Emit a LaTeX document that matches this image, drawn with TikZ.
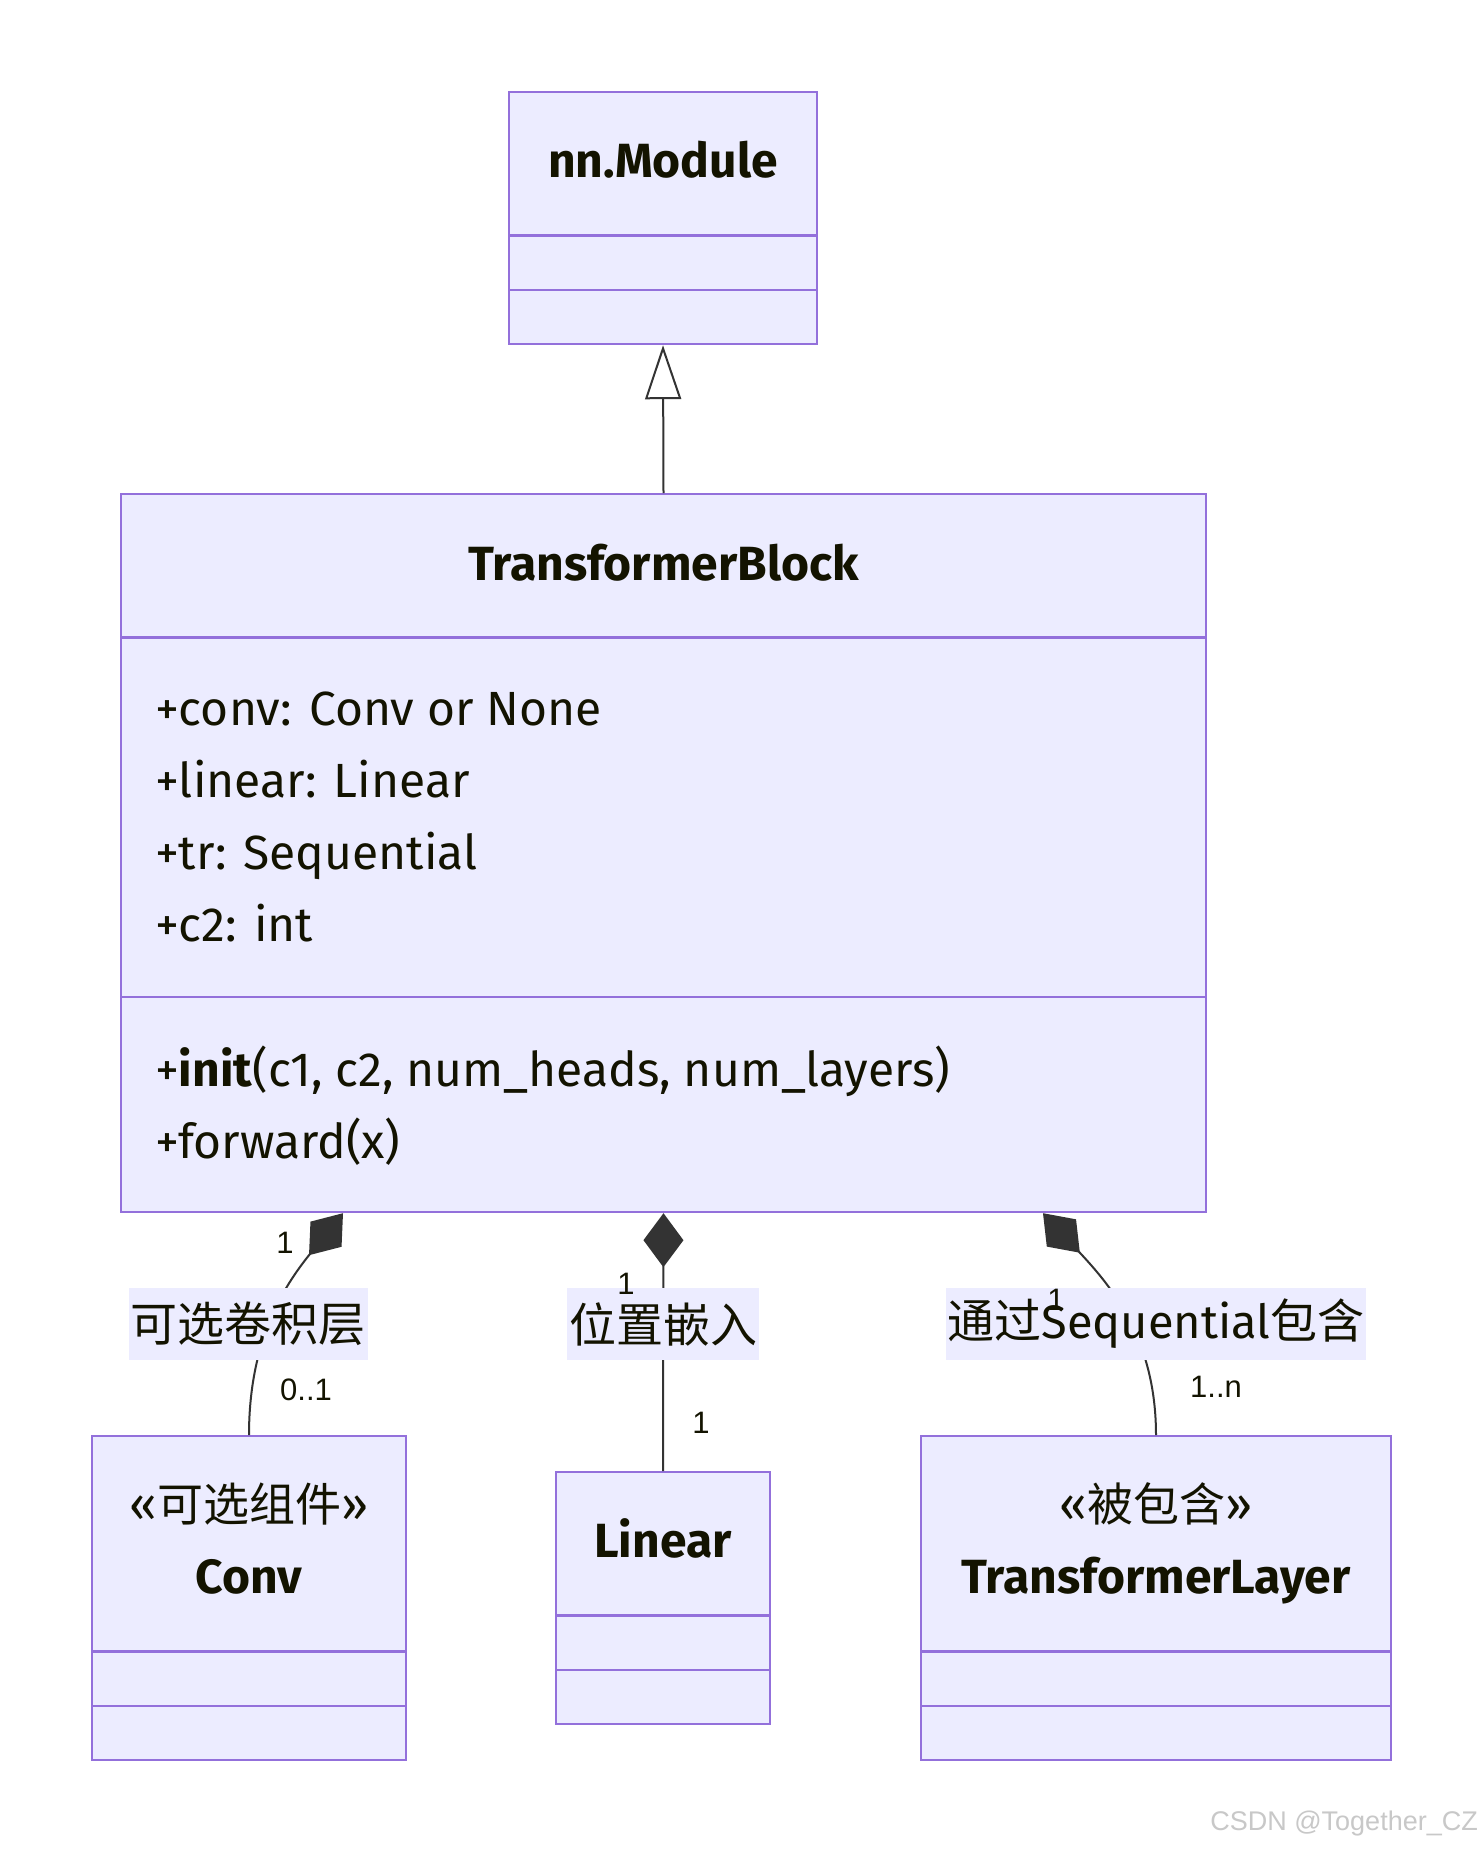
\documentclass[tikz,border=0pt]{standalone}
\usepackage{fontspec}
\setmainfont{Fira Sans}
\newfontfamily\cjk{Noto Sans CJK SC}
\newfontfamily\numfont{Liberation Sans}
\usetikzlibrary{shapes.multipart}
\usetikzlibrary{arrows.meta}
\definecolor{umlfill}{HTML}{ECECFF}
\definecolor{umlborder}{HTML}{9370DB}
\definecolor{umlline}{HTML}{333333}
\definecolor{umltext}{HTML}{131300}
\definecolor{marktext}{HTML}{C8C8C8}
\tikzstyle{umlclass}=[rectangle split, rectangle split parts=3, draw=umlborder,
                      fill=umlfill, line width=2.3pt, inner xsep=8pt, inner ysep=0pt,
                      anchor=north, align=center, text=umltext,
                      font=\fontsize{48}{72}\selectfont]
\tikzstyle{edgelabel}=[fill=umlfill, inner xsep=2pt, inner ysep=0pt, minimum height=72pt,
                       text=umltext, font=\cjk\fontsize{47}{47}\selectfont]
\tikzstyle{mult}=[inner sep=0pt, text=umltext, font=\numfont\fontsize{31}{31}\selectfont]
\tikzstyle{assoc}=[draw=umlline, line width=2pt]
\tikzstyle{compose}=[assoc, {Diamond[length=54pt, width=40pt, fill=umlline]}-]
\tikzstyle{inherit}=[assoc, -{Triangle[open, length=54pt, width=36pt, fill=white]}]
\newcommand{\topstrut}[1][84pt]{\rule{0pt}{#1}}
\newcommand{\botstrut}[1][57pt]{\rule[-#1]{0pt}{#1}}
\newcommand{\emptypart}{\rule[-26pt]{0pt}{52pt}}
\newcommand{\zh}[1]{{\cjk\fontsize{46}{72}\selectfont #1}}

\begin{document}
\begin{tikzpicture}[x=1pt, y=-1pt]
  \fill[white] (0,0) rectangle (1482,1850);
  \useasboundingbox (0,0) rectangle (1482,1850);
  % classes
  \node[umlclass, minimum width=308pt] (module) at (663,91)
    {\topstrut\botstrut\textbf{nn.Module} \nodepart{second}\emptypart \nodepart{third}\emptypart};
  \node[umlclass, minimum width=1085pt, align=left, inner xsep=34pt,
        rectangle split part align={center,left,left}] (block) at (663.5,493)
    {\topstrut[85pt]\botstrut[56pt]\textbf{TransformerBlock}
     \nodepart{second}\topstrut[87pt]+conv: Conv or None\\ +linear: Linear\\ +tr: Sequential\\ \botstrut[54pt]+c2: int
     \nodepart{third}\topstrut[89pt]+\textbf{init}(c1, c2, num\_heads, num\_layers)\\ \botstrut[52pt]+forward(x)};
  \node[umlclass, minimum width=314pt] (conv) at (249,1435)
    {\topstrut«\zh{可选组件}»\\ \botstrut\textbf{Conv} \nodepart{second}\emptypart \nodepart{third}\emptypart};
  \node[umlclass, minimum width=214pt] (linear) at (663,1471)
    {\topstrut\botstrut\textbf{Linear} \nodepart{second}\emptypart \nodepart{third}\emptypart};
  \node[umlclass, minimum width=470pt] (layer) at (1156,1435)
    {\topstrut«\zh{被包含}»\\ \botstrut\textbf{TransformerLayer} \nodepart{second}\emptypart \nodepart{third}\emptypart};
  % relations
  \coordinate (convend) at ([xshift=-320.5pt]block.south);
  \coordinate (layerend) at ([xshift=379.5pt]block.south);
  \draw[inherit] (block.north) -- (module.south);
  \draw[compose] (convend) to[out=-129, in=90] (conv.north);
  \draw[compose] (block.south) -- (linear.north);
  \draw[compose] (layerend) to[out=-47, in=90] (layer.north);
  \node[edgelabel] (convlabel) at (248,1324) {可选卷积层};
  \node[edgelabel] (linearlabel) at (663,1324) {位置嵌入};
  \node[edgelabel] (layerlabel) at (1156,1324) {通过{\rmfamily Sequential}包含};
  \node[mult] (convfrom) at (285,1243) {1};
  \node[mult] (convto) at (306,1390) {0..1};
  \node[mult] (linearfrom) at (626,1284) {1};
  \node[mult] (linearto) at (701,1423) {1};
  \node[mult] (layerfrom) at (1056,1300) {1};
  \node[mult] (layerto) at (1216,1387) {1..n};
  \node[mult, anchor=east, text=marktext, font=\numfont\fontsize{27}{27}\selectfont] (mark)
    at (1478,1823) {CSDN @Together\_CZ};
\end{tikzpicture}
\end{document}
